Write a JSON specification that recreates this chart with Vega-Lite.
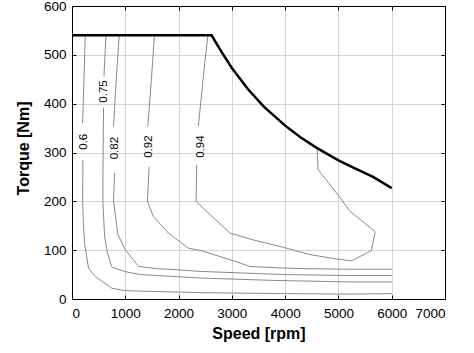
{
  "$schema": "https://vega.github.io/schema/vega-lite/v6.json",
  "width": 373,
  "height": 293,
  "autosize": "none",
  "padding": {"left": 72, "top": 6, "right": 29, "bottom": 54},
  "background": "white",
  "config": {
    "font": "Liberation Sans",
    "view": {"stroke": "black", "strokeWidth": 1},
    "axis": {
      "domainColor": "black",
      "tickColor": "black",
      "tickSize": -4,
      "labelColor": "black",
      "labelFontSize": 13.5,
      "titleColor": "black",
      "titleFontSize": 16,
      "titleFontWeight": "bold",
      "gridColor": "#d6d6d6",
      "gridWidth": 1
    }
  },
  "datasets": {
    "contours": [
      {"k": "0.6a", "o": 1, "x": 249, "y": 540},
      {"k": "0.6a", "o": 2, "x": 225, "y": 450},
      {"k": "0.6a", "o": 3, "x": 199, "y": 360},
      {"k": "0.6b", "o": 1, "x": 205, "y": 285},
      {"k": "0.6b", "o": 2, "x": 200, "y": 200},
      {"k": "0.6b", "o": 3, "x": 215, "y": 150},
      {"k": "0.6b", "o": 4, "x": 240, "y": 110},
      {"k": "0.6b", "o": 5, "x": 311, "y": 63},
      {"k": "0.6b", "o": 6, "x": 436, "y": 46},
      {"k": "0.6b", "o": 7, "x": 749, "y": 22},
      {"k": "0.6b", "o": 8, "x": 998, "y": 17},
      {"k": "0.6b", "o": 9, "x": 2400, "y": 13},
      {"k": "0.6b", "o": 10, "x": 4000, "y": 11},
      {"k": "0.6b", "o": 11, "x": 5200, "y": 10},
      {"k": "0.6b", "o": 12, "x": 6000, "y": 11},
      {"k": "0.75a", "o": 1, "x": 637, "y": 540},
      {"k": "0.75a", "o": 2, "x": 600, "y": 456},
      {"k": "0.75b", "o": 1, "x": 592, "y": 392},
      {"k": "0.75b", "o": 2, "x": 580, "y": 244},
      {"k": "0.75b", "o": 3, "x": 580, "y": 200},
      {"k": "0.75b", "o": 4, "x": 611, "y": 128},
      {"k": "0.75b", "o": 5, "x": 667, "y": 94},
      {"k": "0.75b", "o": 6, "x": 749, "y": 65},
      {"k": "0.75b", "o": 7, "x": 998, "y": 56},
      {"k": "0.75b", "o": 8, "x": 1279, "y": 50},
      {"k": "0.75b", "o": 9, "x": 2406, "y": 43},
      {"k": "0.75b", "o": 10, "x": 3800, "y": 38},
      {"k": "0.75b", "o": 11, "x": 5215, "y": 35},
      {"k": "0.75b", "o": 12, "x": 6000, "y": 35},
      {"k": "0.82a", "o": 1, "x": 886, "y": 540},
      {"k": "0.82a", "o": 2, "x": 830, "y": 450},
      {"k": "0.82a", "o": 3, "x": 779, "y": 353},
      {"k": "0.82b", "o": 1, "x": 798, "y": 258},
      {"k": "0.82b", "o": 2, "x": 779, "y": 200},
      {"k": "0.82b", "o": 3, "x": 861, "y": 132},
      {"k": "0.82b", "o": 4, "x": 998, "y": 101},
      {"k": "0.82b", "o": 5, "x": 1248, "y": 67},
      {"k": "0.82b", "o": 6, "x": 1592, "y": 62},
      {"k": "0.82b", "o": 7, "x": 1966, "y": 60},
      {"k": "0.82b", "o": 8, "x": 2406, "y": 56.5},
      {"k": "0.82b", "o": 9, "x": 4000, "y": 50},
      {"k": "0.82b", "o": 10, "x": 5213, "y": 48},
      {"k": "0.82b", "o": 11, "x": 6000, "y": 48},
      {"k": "0.92a", "o": 1, "x": 1547, "y": 540},
      {"k": "0.92a", "o": 2, "x": 1490, "y": 450},
      {"k": "0.92a", "o": 3, "x": 1423, "y": 353},
      {"k": "0.92b", "o": 1, "x": 1448, "y": 271},
      {"k": "0.92b", "o": 2, "x": 1416, "y": 200},
      {"k": "0.92b", "o": 3, "x": 1528, "y": 169},
      {"k": "0.92b", "o": 4, "x": 1809, "y": 135},
      {"k": "0.92b", "o": 5, "x": 2184, "y": 104},
      {"k": "0.92b", "o": 6, "x": 2406, "y": 99.5},
      {"k": "0.92b", "o": 7, "x": 2966, "y": 80.5},
      {"k": "0.92b", "o": 8, "x": 3339, "y": 66.7},
      {"k": "0.92b", "o": 9, "x": 3963, "y": 63.4},
      {"k": "0.92b", "o": 10, "x": 4463, "y": 62},
      {"k": "0.92b", "o": 11, "x": 5213, "y": 61},
      {"k": "0.92b", "o": 12, "x": 6000, "y": 61},
      {"k": "0.94a", "o": 1, "x": 2550, "y": 540},
      {"k": "0.94a", "o": 2, "x": 2460, "y": 450},
      {"k": "0.94a", "o": 3, "x": 2371, "y": 353},
      {"k": "0.94b", "o": 1, "x": 2340, "y": 275},
      {"k": "0.94b", "o": 2, "x": 2328, "y": 200},
      {"k": "0.94b", "o": 3, "x": 2590, "y": 173},
      {"k": "0.94b", "o": 4, "x": 2966, "y": 135},
      {"k": "0.94b", "o": 5, "x": 3401, "y": 121},
      {"k": "0.94b", "o": 6, "x": 3963, "y": 106},
      {"k": "0.94b", "o": 7, "x": 4463, "y": 91},
      {"k": "0.94b", "o": 8, "x": 4963, "y": 82},
      {"k": "0.94b", "o": 9, "x": 5243, "y": 78},
      {"k": "0.94b", "o": 10, "x": 5618, "y": 99},
      {"k": "0.94b", "o": 11, "x": 5690, "y": 138},
      {"k": "0.94b", "o": 12, "x": 5212, "y": 180},
      {"k": "0.94b", "o": 13, "x": 4993, "y": 213},
      {"k": "0.94b", "o": 14, "x": 4618, "y": 265},
      {"k": "0.94b", "o": 15, "x": 4600, "y": 310}
    ],
    "envelope": [
      {"o": 1, "x": 0, "y": 540},
      {"o": 2, "x": 2620, "y": 540},
      {"o": 3, "x": 2800, "y": 507},
      {"o": 4, "x": 3000, "y": 473},
      {"o": 5, "x": 3300, "y": 430},
      {"o": 6, "x": 3600, "y": 394},
      {"o": 7, "x": 4000, "y": 355},
      {"o": 8, "x": 4300, "y": 330},
      {"o": 9, "x": 4600, "y": 309},
      {"o": 10, "x": 5000, "y": 284},
      {"o": 11, "x": 5300, "y": 268},
      {"o": 12, "x": 5650, "y": 250},
      {"o": 13, "x": 6000, "y": 227}
    ],
    "labels": [
      {"t": "0.6", "x": 217, "y": 322},
      {"t": "0.75", "x": 592, "y": 425},
      {"t": "0.82", "x": 811, "y": 309},
      {"t": "0.92", "x": 1453, "y": 312},
      {"t": "0.94", "x": 2415, "y": 312}
    ]
  },
  "resolve": {"axis": {"x": "independent", "y": "independent"}},
  "layer": [
    {
      "data": {"name": "contours"},
      "mark": {"type": "line", "color": "#8a8a8a", "strokeWidth": 1},
      "encoding": {
        "x": {"field": "x", "type": "quantitative", "scale": {"domain": [0, 7000], "nice": false},
              "axis": {"orient": "bottom", "title": "Speed [rpm]", "format": "d", "values": [0,1000,2000,3000,4000,5000,6000,7000], "grid": true, "labelPadding": 11, "titlePadding": 6}},
        "y": {"field": "y", "type": "quantitative", "scale": {"domain": [0, 600], "nice": false},
              "axis": {"orient": "left", "title": "Torque [Nm]", "values": [0,100,200,300,400,500,600], "grid": true, "labelPadding": 10, "titlePadding": 12, "titleY": 142}},
        "detail": {"field": "k"},
        "order": {"field": "o", "type": "quantitative"}
      }
    },
    {
      "data": {"name": "envelope"},
      "mark": {"type": "line", "color": "black", "strokeWidth": 2.5},
      "encoding": {
        "x": {"field": "x", "type": "quantitative", "scale": {"domain": [0, 7000], "nice": false},
              "axis": {"orient": "top", "title": null, "labels": false, "grid": false, "values": [0,1000,2000,3000,4000,5000,6000,7000]}},
        "y": {"field": "y", "type": "quantitative", "scale": {"domain": [0, 600], "nice": false},
              "axis": {"orient": "right", "title": null, "labels": false, "grid": false, "values": [0,100,200,300,400,500,600]}},
        "order": {"field": "o", "type": "quantitative"}
      }
    },
    {
      "data": {"name": "labels"},
      "mark": {"type": "text", "angle": 270, "fontSize": 11.5, "color": "black", "align": "center", "baseline": "middle"},
      "encoding": {
        "x": {"field": "x", "type": "quantitative", "axis": null},
        "y": {"field": "y", "type": "quantitative", "axis": null},
        "text": {"field": "t"}
      }
    }
  ]
}
